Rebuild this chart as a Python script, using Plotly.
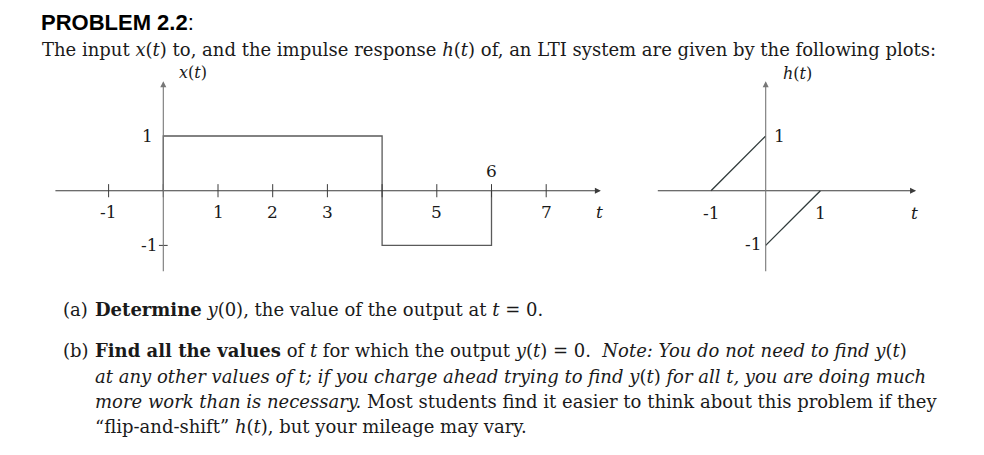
import plotly.graph_objects as go

W, H = 984, 455

# x(t): rectangular pulse (+1 on 0..4, -1 on 4..6)
x_sig_t = [0, 0, 4, 4, 6, 6]
x_sig_v = [0, 1, 1, -1, -1, 0]

# h(t): two ramps
h_sig_t = [-1, 0, None, 0, 1]
h_sig_v = [0, 1, None, -1, 0]

# axes extents (data units)
x_axis_t = [-2, 8]
h_axis_t = [-2, 2.75]
axis_v = [-1.5, 2]

# ticks and labels
x_ticks = [-1, 0, 1, 2, 3, 4, 5, 6, 7]
x_labels_below = [-1, 1, 2, 3, 5, 7]
x_labels_above = [6]
h_labels_t = [-1, 1]

# pixel layout: both plots 54.7 px per unit, x-axis at y=190.7
UNIT = 54.7
ZERO_Y = 190.7
Y_PX = (60, 290)
X1_PX, X1_ZERO = (30, 640), 163.3
X2_PX, X2_ZERO = (645, 960), 765.7


def px(x):
    return x / W


def py(y):
    return 1 - y / H


def rng(lo, hi, zero):
    return [(lo - zero) / UNIT, (hi - zero) / UNIT]


SERIF = "DejaVu Serif"
LINE = "#5a5a5a"
AXIS = "#3c3c3c"

fig = go.Figure()

fig.add_trace(go.Scatter(x=x_sig_t, y=x_sig_v, mode="lines",
                         line=dict(color=LINE, width=1.3),
                         xaxis="x", yaxis="y", hoverinfo="skip"))

tk_x, tk_y = [], []
for t in x_ticks:
    tk_x += [t, t, None]
    tk_y += [-0.12, 0.12, None]
tk_x += [-0.08, 0.08, None]
tk_y += [-1, -1, None]
fig.add_trace(go.Scatter(x=tk_x, y=tk_y, mode="lines",
                         line=dict(color=AXIS, width=1),
                         xaxis="x", yaxis="y", hoverinfo="skip"))

fig.add_trace(go.Scatter(x=h_sig_t, y=h_sig_v, mode="lines",
                         line=dict(color="#2f3a3a", width=1.3),
                         xaxis="x2", yaxis="y2", hoverinfo="skip"))

# axis lines with arrowheads
for xr, yr, xa in [("x", "y", x_axis_t), ("x2", "y2", h_axis_t)]:
    fig.add_annotation(x=xa[1], y=0, ax=xa[0], ay=0, xref=xr, yref=yr,
                       axref=xr, ayref=yr, text="", showarrow=True,
                       arrowhead=2, arrowsize=1.1, arrowwidth=1.1,
                       arrowcolor=AXIS)
    fig.add_annotation(x=0, y=axis_v[1], ax=0, ay=axis_v[0], xref=xr, yref=yr,
                       axref=xr, ayref=yr, text="", showarrow=True,
                       arrowhead=2, arrowsize=1.1, arrowwidth=1.1,
                       arrowcolor="#777777")

tick_font = dict(family=SERIF, size=17, color="#1a1a1a")
name_font = dict(family=SERIF, size=16, color="#1a1a1a")

for t in x_labels_below:
    fig.add_annotation(x=t, y=0, xref="x", yref="y", text=str(t), showarrow=False,
                       yshift=-21, font=tick_font)
for t in x_labels_above:
    fig.add_annotation(x=t, y=0, xref="x", yref="y", text=str(t), showarrow=False,
                       yshift=20, font=tick_font)
fig.add_annotation(x=x_axis_t[1], y=0, xref="x", yref="y", text="<i>t</i>",
                   showarrow=False, yshift=-21, xshift=-1, font=tick_font)
fig.add_annotation(x=0, y=1, xref="x", yref="y", text="1", showarrow=False,
                   xanchor="right", xshift=-8, font=tick_font)
fig.add_annotation(x=0, y=-1, xref="x", yref="y", text="-1", showarrow=False,
                   xanchor="right", xshift=-3, font=tick_font)

for t in h_labels_t:
    fig.add_annotation(x=t, y=0, xref="x2", yref="y2", text=str(t), showarrow=False,
                       yshift=-22, font=tick_font)
fig.add_annotation(x=h_axis_t[1], y=0, xref="x2", yref="y2", text="<i>t</i>",
                   showarrow=False, yshift=-22, xshift=-2, font=tick_font)
fig.add_annotation(x=0, y=1, xref="x2", yref="y2", text="1", showarrow=False,
                   xanchor="left", xshift=6, font=tick_font)
fig.add_annotation(x=0, y=-1, xref="x2", yref="y2", text="-1", showarrow=False,
                   xanchor="right", xshift=-2, yshift=1, font=tick_font)

# paper-referenced texts: (x px, y px, anchor, text, font)
body = dict(family=SERIF, size=18, color="#1a1a1a")
texts = [
    (193, 72, "center", "<i>x</i>(<i>t</i>)", name_font),
    (797, 73, "center", "<i>h</i>(<i>t</i>)", name_font),
    (39, 22, "left", "<b>PROBLEM 2.2</b>:",
     dict(family="Liberation Sans", size=22, color="#000000")),
    (40, 49, "left", "The input <i>x</i>(<i>t</i>) to, and the impulse response "
                     "<i>h</i>(<i>t</i>) of, an LTI system are given by the following plots:", body),
    (61, 309, "left", "(a)", body),
    (93, 309, "left", "<b>Determine</b> <i>y</i>(0), the value of the output at <i>t</i> = 0.", body),
    (61, 350, "left", "(b)", body),
    (93, 350, "left", "<b>Find all the values</b> of <i>t</i> for which the output "
                      "<i>y</i>(<i>t</i>) = 0.  <i>Note: You do not need to find y</i>(<i>t</i>)", body),
    (93, 376, "left", "<i>at any other values of t; if you charge ahead trying to find y</i>"
                      "(<i>t</i>) <i>for all t, you are doing much</i>", body),
    (93, 401, "left", "<i>more work than is necessary.</i> Most students find it easier "
                      "to think about this problem if they", body),
    (93, 426, "left", "\u201cflip-and-shift\u201d <i>h</i>(<i>t</i>), but your mileage may vary.", body),
]
for x0, y0, anchor, txt, f in texts:
    fig.add_annotation(x=px(x0), y=py(y0), xref="paper", yref="paper",
                       xanchor=anchor, yanchor="middle",
                       text=txt, showarrow=False, font=f)

hidden = dict(visible=False, fixedrange=True)
fig.update_layout(
    width=W, height=H,
    margin=dict(l=0, r=0, t=0, b=0),
    paper_bgcolor="white", plot_bgcolor="white",
    showlegend=False,
    xaxis=dict(domain=[px(X1_PX[0]), px(X1_PX[1])], range=rng(*X1_PX, X1_ZERO), **hidden),
    yaxis=dict(domain=[py(Y_PX[1]), py(Y_PX[0])],
               range=[(ZERO_Y - Y_PX[1]) / UNIT, (ZERO_Y - Y_PX[0]) / UNIT], **hidden),
    xaxis2=dict(domain=[px(X2_PX[0]), px(X2_PX[1])], range=rng(*X2_PX, X2_ZERO), **hidden),
    yaxis2=dict(domain=[py(Y_PX[1]), py(Y_PX[0])],
                range=[(ZERO_Y - Y_PX[1]) / UNIT, (ZERO_Y - Y_PX[0]) / UNIT],
                anchor="x2", **hidden),
)

# drop the default page margin so the figure sits at the window's corner
fig.write_html("out.html", config={"displayModeBar": False},
               post_script="document.body.style.margin='0';"
                           "document.body.style.overflow='hidden';")
